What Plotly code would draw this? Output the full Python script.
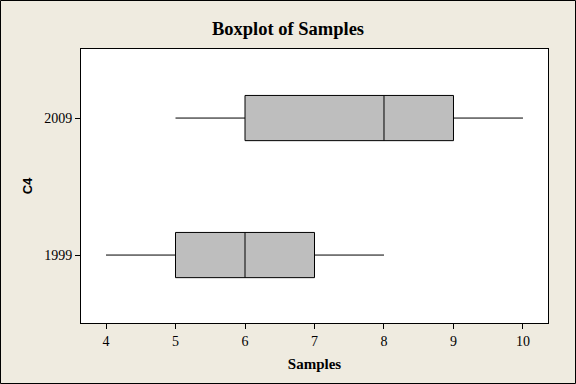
import plotly.graph_objects as go

categories = ["1999", "2009"]
positions = [0, 1]
lower = [4, 5]
q1 = [5, 6]
median = [6, 8]
q3 = [7, 9]
upper = [8, 10]
x_ticks = [4, 5, 6, 7, 8, 9, 10]

W, H = 576, 384
L, R, T, B = 81, 28, 49, 61
pw, ph = W - L - R, H - T - B

fig = go.Figure()
fig.add_trace(go.Box(
    y=positions, q1=q1, median=median, q3=q3,
    lowerfence=lower, upperfence=upper,
    orientation="h", width=0.33, whiskerwidth=0,
    fillcolor="#BEBEBE", line=dict(color="black", width=1),
    boxpoints=False, hoverinfo="skip", showlegend=False,
))

font = "Liberation Serif, Times New Roman, serif"
fig.update_layout(
    width=W, height=H,
    margin=dict(l=L, r=R, t=T, b=B, autoexpand=False),
    paper_bgcolor="#EFEBE0", plot_bgcolor="white",
    font=dict(family=font, size=14, color="black"),
    title=dict(text="<b>Boxplot of Samples</b>", x=0.5, xanchor="center",
               y=1 - 29 / H, yanchor="middle", font=dict(size=18.5, family=font)),
    xaxis=dict(range=[3.64, 10.36], tickvals=x_ticks, ticks="outside", ticklen=5,
               tickcolor="black", showgrid=False, zeroline=False,
               showline=True, linecolor="black", mirror=True, linewidth=1,
               title=dict(text="<b>Samples</b>", font=dict(size=15), standoff=10)),
    yaxis=dict(range=[-0.496, 1.504], tickvals=positions, ticktext=categories,
               ticks="outside", ticklen=5, tickcolor="black", showgrid=False,
               zeroline=False, showline=True, linecolor="black", mirror=True,
               linewidth=1,
               title=dict(text="<b>C4</b>", standoff=8,
                          font=dict(size=13, family="Liberation Sans, Arial, sans-serif"))),
    shapes=[dict(type="rect", xref="paper", yref="paper",
                 x0=(0.5 - L) / pw, x1=(W - 0.5 - L) / pw,
                 y0=-(B - 0.5) / ph,
                 y1=(H - B - 0.5) / ph,
                 line=dict(color="black", width=1), layer="above")],
)
fig.write_html("out.html", config={"displayModeBar": False},
               post_script="document.body.style.margin='0';")
